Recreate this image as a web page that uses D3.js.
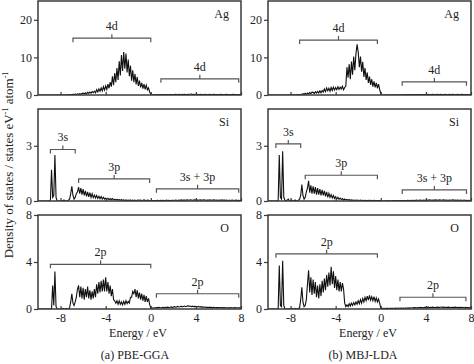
<!DOCTYPE html>
<html><head><meta charset="utf-8">
<script src="https://cdn.jsdelivr.net/npm/d3@7"></script>
<style>
body{margin:0;background:#fff;}
svg{display:block;}
text{font-family:"Liberation Serif","Times New Roman",serif;fill:#222;}
</style>
</head><body>
<svg id="c" width="474" height="364"></svg>
<script>
// ---------- DATA ----------
const energyStart = -10, energyStep = 0.1;   // energy grid (eV) for the DOS arrays
const xTicks = [-8, -4, 0, 4, 8];
const elements = ["Ag", "Si", "O"];
const methods = ["(a) PBE-GGA", "(b) MBJ-LDA"];
const yDomains = [[0, 25], [0, 5], [0, 8]];
const yTicks = [[0, 10, 20], [0, 3], [0, 4, 8]];

// Ag 4d, PBE-GGA  (rows = 1 eV, from -10 to 8)
const agGGA = [
 0,0,0,0,0,0,0,0,0,0,
 0,0,0,0,0,0,0,0,0,0,
 0,0,0,0.05,0,0,0.1,0,0.05,0.1,
 0.1,0.2,0.1,0.3,0.1,0.3,0.15,0.35,0.2,0.4,
 0.5,0.3,0.6,0.3,0.7,0.4,0.8,0.5,0.9,0.6,
 1.0,0.6,1.4,0.8,1.6,1.0,1.9,1.1,2.2,1.3,
 2.4,1.5,2.9,1.8,3.4,2.2,5.0,2.6,5.8,3.4,
 7.2,4.0,9.0,5.2,10.6,6.4,11.4,7.0,11.0,6.0,
 9.4,5.0,7.8,3.8,6.6,3.4,5.6,2.8,4.8,2.4,
 3.8,2.0,3.2,1.7,2.9,1.5,2.6,1.4,1.9,0.8,
 0.3,0.05,0.05,0,0.05,0.1,0.05,0.1,0.05,0.1,
 0.1,0.05,0.1,0.15,0.1,0.05,0.1,0.15,0.1,0.1,
 0.15,0.1,0.2,0.1,0.15,0.2,0.1,0.15,0.2,0.15,
 0.2,0.15,0.1,0.2,0.15,0.2,0.25,0.15,0.2,0.1,
 0.15,0.2,0.1,0.15,0.2,0.1,0.15,0.1,0.2,0.15,
 0.1,0.15,0.2,0.1,0.15,0.1,0.2,0.1,0.15,0.1,
 0.15,0.1,0.2,0.15,0.1,0.15,0.1,0.2,0.1,0.15,
 0.1,0.15,0.1,0.2,0.1,0.15,0.1,0.1,0.15,0.1,
 0.1];
// Ag 4d, MBJ-LDA
const agMBJ = [
 0,0,0,0,0,0,0,0,0,0,
 0,0,0,0,0,0,0,0,0,0,
 0,0.05,0,0.1,0,0.05,0.1,0.05,0.1,0.15,
 0.2,0.35,0.15,0.45,0.2,0.55,0.3,0.65,0.35,0.75,
 0.7,0.4,0.9,0.5,0.95,0.55,1.1,0.6,1.2,0.8,
 1.6,0.9,1.9,1.1,1.8,1.0,2.0,1.2,2.1,1.3,
 2.0,1.4,2.2,1.5,2.1,1.6,2.3,1.4,2.0,2.4,
 7.4,4.6,8.2,4.2,8.9,5.4,10.2,6.6,11.0,13.5,
 11.4,7.4,10.2,6.2,8.8,4.8,7.2,4.0,6.0,3.2,
 4.9,2.7,4.2,2.2,3.6,2.0,3.2,1.8,2.9,1.5,
 0.4,0.05,0,0,0,0.05,0,0,0.05,0,
 0,0.05,0,0.05,0,0.05,0.05,0,0.05,0.05,
 0.05,0.1,0.05,0.1,0.05,0.1,0.15,0.1,0.05,0.1,
 0.1,0.15,0.1,0.05,0.1,0.15,0.1,0.1,0.15,0.1,
 0.1,0.15,0.2,0.1,0.15,0.1,0.2,0.15,0.1,0.15,
 0.2,0.1,0.15,0.2,0.1,0.15,0.1,0.2,0.15,0.1,
 0.15,0.2,0.1,0.15,0.2,0.15,0.1,0.15,0.2,0.1,
 0.15,0.1,0.2,0.15,0.1,0.15,0.1,0.15,0.1,0.1,
 0.1];
// Si 3s/3p, PBE-GGA
const siGGA = [
 0,0,0,0,0,0,0,0,0,0,
 0,0.05,1.7,0.2,0.3,2.5,0.2,0,0,0,
 0,0,0,0.05,0,0,0,0.05,0.1,0.4,
 0.8,0.3,0.1,0.2,0.4,0.5,0.75,0.4,0.7,0.35,
 0.65,0.3,0.55,0.25,0.5,0.22,0.45,0.2,0.4,0.18,
 0.32,0.16,0.3,0.14,0.26,0.12,0.24,0.1,0.2,0.1,
 0.16,0.08,0.14,0.07,0.13,0.07,0.13,0.06,0.1,0.05,
 0.09,0.05,0.08,0.04,0.07,0.04,0.06,0.03,0.06,0.03,
 0.05,0.03,0.06,0.02,0.05,0.03,0.05,0.02,0.04,0.05,
 0.04,0.05,0.03,0.04,0.06,0.04,0.03,0.05,0.04,0.03,
 0.02,0,0.02,0.03,0.02,0.03,0.04,0.03,0.02,0.04,
 0.03,0.04,0.02,0.03,0.05,0.03,0.04,0.02,0.03,0.04,
 0.04,0.03,0.05,0.04,0.03,0.05,0.04,0.06,0.04,0.05,
 0.05,0.04,0.06,0.05,0.04,0.06,0.05,0.04,0.05,0.06,
 0.05,0.06,0.04,0.05,0.06,0.04,0.05,0.06,0.05,0.04,
 0.05,0.04,0.06,0.05,0.04,0.05,0.06,0.04,0.05,0.04,
 0.04,0.05,0.04,0.06,0.04,0.05,0.04,0.05,0.03,0.04,
 0.04,0.03,0.05,0.04,0.03,0.04,0.05,0.03,0.04,0.03,
 0.03];
// Si 3s/3p, MBJ-LDA
const siMBJ = [
 0,0,0,0,0,0,0,0,0,0,
 2.5,0.2,0.1,2.7,0.2,0.05,0,0.05,0.1,0,
 0,0.05,0,0,0.05,0,0,0.05,0.1,0.3,
 0.9,0.3,0.1,0.2,0.5,0.7,1.1,0.45,0.85,0.4,
 0.8,0.4,0.75,0.35,0.7,0.35,0.65,0.3,0.6,0.3,
 0.55,0.25,0.5,0.2,0.42,0.2,0.35,0.16,0.3,0.14,
 0.24,0.1,0.2,0.09,0.16,0.08,0.13,0.06,0.11,0.06,
 0.08,0.05,0.07,0.04,0.06,0.04,0.05,0.03,0.05,0.04,
 0.04,0.03,0.05,0.03,0.04,0.03,0.04,0.02,0.03,0.04,
 0.03,0.04,0.02,0.03,0.04,0.03,0.02,0.03,0.02,0.02,
 0.02,0,0,0.01,0,0.01,0.02,0.01,0,0.01,
 0.01,0.02,0.01,0.02,0.01,0.02,0.02,0.01,0.02,0.03,
 0.02,0.03,0.02,0.03,0.04,0.03,0.02,0.04,0.03,0.04,
 0.03,0.04,0.05,0.03,0.04,0.05,0.04,0.03,0.05,0.04,
 0.04,0.05,0.04,0.06,0.05,0.04,0.05,0.04,0.06,0.05,
 0.05,0.04,0.06,0.05,0.04,0.05,0.06,0.04,0.05,0.04,
 0.04,0.05,0.04,0.05,0.06,0.04,0.05,0.04,0.05,0.04,
 0.04,0.05,0.03,0.04,0.05,0.03,0.04,0.03,0.04,0.03,
 0.03];
// O 2p, PBE-GGA
const oGGA = [
 0,0,0,0,0,0,0,0,0,0,
 0,0,0,2.0,0.3,3.2,0.2,0,0,0,
 0,0,0.05,0,0,0.05,0,0,0.1,0.6,
 1.3,0.5,0.3,0.6,1.0,1.7,2.0,1.0,1.9,0.9,
 1.8,0.8,1.7,1.0,1.9,0.9,1.6,0.8,1.5,0.9,
 1.7,1.0,2.1,1.3,2.3,1.4,2.4,1.5,2.5,1.5,
 2.7,1.5,2.3,1.3,2.0,1.1,1.7,0.8,0.7,0.5,
 0.7,0.4,0.7,0.4,0.6,0.35,0.65,0.4,0.7,0.45,
 0.65,0.5,1.0,1.0,1.5,1.3,1.7,1.0,1.6,0.9,
 1.4,0.8,1.3,0.7,1.2,0.6,1.1,0.6,0.9,0.4,
 0.1,0.05,0.1,0.08,0.1,0.12,0.1,0.15,0.12,0.1,
 0.12,0.15,0.1,0.14,0.12,0.16,0.13,0.15,0.18,0.14,
 0.16,0.2,0.15,0.18,0.22,0.17,0.2,0.24,0.18,0.22,
 0.25,0.2,0.23,0.28,0.22,0.25,0.2,0.24,0.2,0.22,
 0.2,0.18,0.22,0.17,0.2,0.16,0.18,0.15,0.17,0.14,
 0.15,0.13,0.16,0.12,0.14,0.12,0.15,0.11,0.13,0.12,
 0.12,0.1,0.13,0.11,0.12,0.1,0.12,0.09,0.11,0.1,
 0.1,0.12,0.09,0.11,0.1,0.12,0.09,0.1,0.11,0.1,
 0.1];
// O 2p, MBJ-LDA
const oMBJ = [
 0,0,0,0,0,0,0,0,0,0,
 3.7,0.3,0.2,4.1,0.3,0,0,0,0,0,
 0,0.05,0,0,0.05,0,0,0.05,0.1,0.8,
 1.85,0.6,0.2,0.3,0.8,2.1,3.3,1.4,2.7,1.2,
 2.5,1.3,2.3,1.0,2.0,0.9,2.1,1.1,2.4,1.4,
 2.6,1.6,2.9,1.9,3.1,2.0,3.6,2.1,3.2,1.8,
 2.8,1.6,2.5,1.5,2.3,1.5,2.2,1.7,0.5,0.2,
 0.35,0.2,0.45,0.25,0.5,0.3,0.55,0.35,0.6,0.4,
 0.7,0.45,0.8,0.5,0.9,0.6,1.0,0.7,1.1,0.75,
 1.15,0.75,1.05,0.7,1.05,0.65,0.95,0.6,0.85,0.5,
 0.1,0.05,0.03,0.05,0.04,0.06,0.05,0.04,0.06,0.05,
 0.05,0.06,0.04,0.07,0.05,0.06,0.08,0.05,0.07,0.06,
 0.08,0.06,0.09,0.07,0.1,0.08,0.11,0.09,0.1,0.12,
 0.1,0.12,0.09,0.13,0.11,0.14,0.12,0.1,0.13,0.15,
 0.12,0.14,0.16,0.13,0.15,0.12,0.16,0.14,0.13,0.15,
 0.14,0.16,0.13,0.15,0.17,0.14,0.16,0.13,0.15,0.14,
 0.16,0.14,0.13,0.15,0.12,0.14,0.16,0.13,0.15,0.12,
 0.14,0.12,0.15,0.13,0.11,0.14,0.12,0.13,0.1,0.12,
 0.1];

// orbital brackets: [E from, E to, DOS level, label]
const agGGABrackets = [[-6.9, 0, 15.1, "4d"], [0.9, 7.8, 4.3, "4d"]];
const agMBJBrackets = [[-7.2, -0.3, 14.6, "4d"], [1.9, 7.6, 3.5, "4d"]];
const siGGABrackets = [[-8.9, -6.7, 2.8, "3s"], [-6.4, -0.1, 1.2, "3p"], [0.5, 7.8, 0.66, "3s + 3p"]];
const siMBJBrackets = [[-9.3, -7.1, 3.1, "3s"], [-6.7, -0.3, 1.4, "3p"], [1.9, 7.6, 0.6, "3s + 3p"]];
const oGGABrackets = [[-8.9, 0, 3.8, "2p"], [0.5, 7.8, 1.3, "2p"]];
const oMBJBrackets = [[-9.3, -0.3, 4.7, "2p"], [1.7, 7.55, 1.0, "2p"]];

// ---------- DRAW ----------
const series = [[agGGA, agMBJ], [siGGA, siMBJ], [oGGA, oMBJ]];
const bracketSets = [[agGGABrackets, agMBJBrackets], [siGGABrackets, siMBJBrackets], [oGGABrackets, oMBJBrackets]];

const svg = d3.select("#c");
const cols = [{x0: 38, x1: 241, capX: 135, enX: 138}, {x0: 268, x1: 471, capX: 363, enX: 368}];
const rows = [{top: 1, bottom: 95}, {top: 109, bottom: 201}, {top: 215, bottom: 309}];
const frameColor = "#3a3a3a";
const defs = svg.append("defs");

cols.forEach((col, ci) => {
  const x = d3.scaleLinear().domain([energyStart, 8]).range([col.x0, col.x1]);
  rows.forEach((row, ri) => {
    const y = d3.scaleLinear().domain(yDomains[ri]).range([row.bottom, row.top]);
    const g = svg.append("g");
    const clipId = `clip${ci}${ri}`;
    defs.append("clipPath").attr("id", clipId).append("rect")
      .attr("x", col.x0).attr("y", row.top).attr("width", col.x1 - col.x0).attr("height", row.bottom - row.top);

    // curve
    const line = d3.line().x((d, i) => x(energyStart + i * energyStep)).y(d => y(d));
    g.append("path").datum(series[ri][ci]).attr("clip-path", `url(#${clipId})`)
      .attr("d", line).attr("fill", "none").attr("stroke", "#111").attr("stroke-width", 1.1)
      .attr("stroke-linejoin", "miter");

    // y axis
    const ya = g.append("g").attr("transform", `translate(${col.x0},0)`)
      .call(d3.axisLeft(y).tickValues(yTicks[ri]).tickSize(4).tickPadding(2).tickFormat(d3.format("d")));
    ya.select(".domain").remove();
    ya.selectAll("line").attr("stroke", frameColor).attr("stroke-width", 1.2);
    ya.selectAll("text").attr("font-size", 12).attr("font-family", "Liberation Serif").attr("fill", "#222");

    // x axis (inward ticks)
    const xa = g.append("g").attr("transform", `translate(0,${row.bottom})`)
      .call(d3.axisBottom(x).tickValues(xTicks).tickSize(-3).tickPadding(4)
        .tickFormat(ri === 2 ? (d => (d < 0 ? "-" + Math.abs(d) : d)) : () => ""));
    xa.select(".domain").remove();
    xa.selectAll("line").attr("stroke", frameColor).attr("stroke-width", 1.2);
    xa.selectAll("text").attr("font-size", 12).attr("font-family", "Liberation Serif").attr("fill", "#222");

    // frame
    g.append("rect").attr("x", col.x0).attr("y", row.top)
      .attr("width", col.x1 - col.x0).attr("height", row.bottom - row.top)
      .attr("fill", "none").attr("stroke", frameColor).attr("stroke-width", 1.5);

    // element label
    g.append("text").attr("x", col.x1 - 12).attr("y", row.top + 17)
      .attr("text-anchor", "end").attr("font-size", 12).text(elements[ri]);

    // brackets
    bracketSets[ri][ci].forEach(([e0, e1, lv, lab]) => {
      const bx0 = x(e0), bx1 = x(e1), by = y(lv), bm = (bx0 + bx1) / 2;
      g.append("path")
        .attr("d", `M${bx0},${by + 4}V${by}H${bx1}V${by + 4}M${bm},${by}V${by - 4}`)
        .attr("fill", "none").attr("stroke", "#555").attr("stroke-width", 1.2);
      g.append("text").attr("x", bm).attr("y", by - 8).attr("text-anchor", "middle")
        .attr("font-size", 12).text(lab);
    });
  });

  svg.append("text").attr("x", col.enX).attr("y", 337).attr("text-anchor", "middle")
    .attr("font-size", 12).text("Energy / eV");
  svg.append("text").attr("x", col.capX).attr("y", 359).attr("text-anchor", "middle")
    .attr("font-size", 12).text(methods[ci]);
});

// y axis title
const yt = svg.append("text").attr("transform", "translate(13,165) rotate(-90)")
  .attr("text-anchor", "middle").attr("font-size", 13);
yt.append("tspan").text("Density of states / states eV");
yt.append("tspan").attr("font-size", 8).attr("dy", -5).text("-1");
yt.append("tspan").attr("dy", 5).text(" atom");
yt.append("tspan").attr("font-size", 8).attr("dy", -5).text("-1");
</script>
</body></html>
